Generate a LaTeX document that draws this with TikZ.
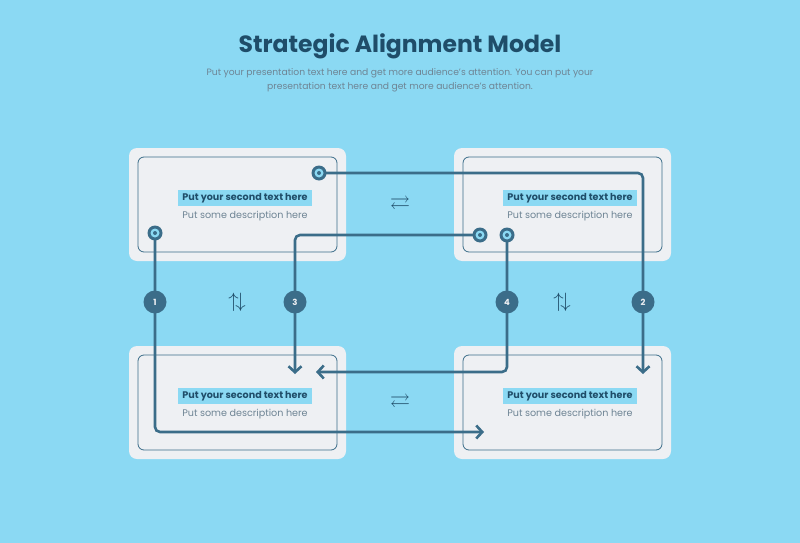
\documentclass[tikz,border=0pt]{standalone}
\usepackage{amssymb}
\usepackage{fontspec}
\setmainfont{Poppins}
\usetikzlibrary{positioning,arrows.meta}
\definecolor{bgblue}{HTML}{8BD9F3}
\definecolor{boxgray}{HTML}{EEF0F3}
\definecolor{linecol}{HTML}{3B6D89}
\definecolor{titlecol}{HTML}{1F4D69}
\definecolor{desccol}{HTML}{6E8494}
\begin{document}
\begin{tikzpicture}[x=1pt,y=-1pt,
        outerbox/.style={fill=boxgray,rounded corners=8pt},
        innerbox/.style={draw=linecol,line width=0.8pt,rounded corners=6pt},
        headlbl/.style={fill=bgblue,text=titlecol,font=\fontsize{9.6}{11}\selectfont\bfseries,inner xsep=4pt,inner ysep=3pt},
        desclbl/.style={text=desccol,font=\fontsize{9.6}{11}\selectfont},
        badge/.style={circle,fill=linecol,text=boxgray,font=\fontsize{8.5}{10}\selectfont\bfseries,minimum size=23pt,inner sep=0pt},
        flow/.style={draw=linecol,line width=2.6pt,rounded corners=5pt},
        flowtip/.style={flow,-{Straight Barb[length=6pt,width=13pt,line width=2.6pt]}},
        swap/.style={text=titlecol,font=\fontsize{20}{20}\selectfont}
    ]
    \fill[bgblue] (0,0) rectangle (800,543);
    %--- title ---
    \node[text=titlecol,font=\fontsize{23.5}{26}\selectfont\bfseries] (title) at (400,46) {Strategic Alignment Model};
    \node[text=desccol,font=\fontsize{9.2}{14}\selectfont,align=center] (sub) at (400,80)
        {Put your presentation text here and get more audience's attention. You can put your\\presentation text here and get more audience's attention.};
    %--- boxes ---
    \foreach \nm/\x/\y in {tl/129/148, tr/454/148, bl/129/346, br/454/346}{
        \fill[outerbox] (\x,\y) rectangle ++(217,113);
        \draw[innerbox] (\x+9,\y+9) rectangle ++(199,95);
        \node[headlbl] (\nm-head) at (\x+116,\y+50) {Put your second text here};
        \node[desclbl,below=1.5pt of \nm-head] (\nm-desc) {Put some description here};
    }
    %--- connector ends ---
    \coordinate (s1) at (155,233);
    \coordinate (s2) at (319,173);
    \coordinate (s3) at (480,235);
    \coordinate (s4) at (507,235);
    \coordinate (e1) at (484,432);
    \coordinate (e2) at (643,374);
    \coordinate (e3) at (295,374);
    \coordinate (e4) at (316,372);
    %--- connectors ---
    \draw[flowtip] (s1) |- (e1);
    \draw[flowtip] (s2) -| (e2);
    \draw[flowtip] (s3) -| (e3);
    \draw[flowtip] (s4) |- (e4);
    \foreach \s in {s1,s2,s3,s4}{
        \fill[linecol] (\s) circle (7.5);
        \fill[bgblue] (\s) circle (4.5);
        \fill[linecol] (\s) circle (2);
    }
    %--- badges ---
    \node[badge] (b1) at (155,302) {1};
    \node[badge] (b2) at (643,302) {2};
    \node[badge] (b3) at (295,302) {3};
    \node[badge] (b4) at (507,302) {4};
    %--- swap marks ---
    \node[swap] (h1) at (400,205) {$\rightleftarrows$};
    \node[swap] (h2) at (400,403) {$\rightleftarrows$};
    \node[swap] (v1) at (237,302) {$\uparrow\!\downarrow$};
    \node[swap] (v2) at (562,302) {$\uparrow\!\downarrow$};
\end{tikzpicture}
\end{document}
